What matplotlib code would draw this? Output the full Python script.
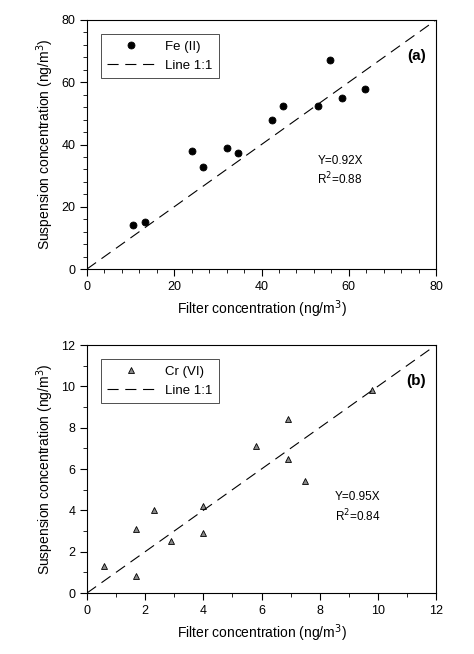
import matplotlib
matplotlib.use('Agg')
import matplotlib.pyplot as plt
import numpy as np

# panel (a) Fe(II)
fe_x = [10.5, 13.3, 24.0, 26.5, 32.0, 34.5, 42.5, 45.0, 53.0, 55.8, 58.5, 63.8]
fe_y = [14.2, 15.2, 38.0, 32.8, 39.0, 37.2, 47.8, 52.3, 52.3, 67.3, 55.0, 57.7]
# panel (b) Cr(VI)
cr_x = [0.6, 1.7, 1.7, 2.3, 2.9, 4.0, 4.0, 5.8, 6.9, 6.9, 7.5, 9.8]
cr_y = [1.3, 0.8, 3.1, 4.0, 2.5, 2.9, 4.2, 7.1, 8.4, 6.5, 5.4, 9.8]

plt.rcParams['font.family'] = ['Liberation Sans', 'DejaVu Sans']
plt.rcParams['font.size'] = 9

fig = plt.figure(figsize=(4.74, 6.54), dpi=100)
ax1 = fig.add_axes([87/474, 1-269/654, 349/474, 249/654])
ax2 = fig.add_axes([87/474, 1-593/654, 349/474, 248/654])

def panel(ax, x, y, lim, step, minor, marker, ms, lab, tag, eq, r2, eqpos):
    ax.plot(x, y, linestyle='none', marker=marker, color='black' if marker == 'o' else '#888888',
            markeredgecolor='black', markersize=ms, markeredgewidth=0.6, label=lab)
    ax.plot([0, lim], [0, lim], color='black', linestyle=(0, (10, 6)), lw=0.8, label='Line 1:1')
    ax.set_xlim(0, lim)
    ax.set_ylim(0, lim)
    ax.set_xticks(np.arange(0, lim + step, step))
    ax.set_yticks(np.arange(0, lim + step, step))
    ax.set_xticks(np.arange(0, lim + minor, minor), minor=True)
    ax.set_yticks(np.arange(0, lim + minor, minor), minor=True)
    ax.tick_params(which='major', length=5, direction='out')
    ax.tick_params(which='minor', length=3, direction='out')
    ax.set_xlabel('Filter concentration (ng/m$^3$)', fontsize=10)
    ax.set_ylabel('Suspension concentration (ng/m$^3$)', fontsize=10)
    ax.text(0.97, 0.84, tag, transform=ax.transAxes, ha='right', fontsize=11, fontweight='bold')
    ax.text(eqpos[0], eqpos[1], eq + '\nR$^2$=' + r2, transform=ax.transAxes, fontsize=8.5, linespacing=1.3)
    leg = ax.legend(loc='upper left', bbox_to_anchor=(0.02, 0.97), fancybox=False,
                    edgecolor='black', fontsize=9.5, markerfirst=True, handlelength=3.6,
                    borderpad=0.5)
    leg.get_frame().set_linewidth(0.6)

panel(ax1, fe_x, fe_y, 80, 20, 4, 'o', 5, 'Fe (II)', '(a)', 'Y=0.92X', '0.88', (0.66, 0.34))
panel(ax2, cr_x, cr_y, 12, 2, 1, '^', 4.5, 'Cr (VI)', '(b)', 'Y=0.95X', '0.84', (0.71, 0.29))

fig.savefig('out.png', dpi=100)
